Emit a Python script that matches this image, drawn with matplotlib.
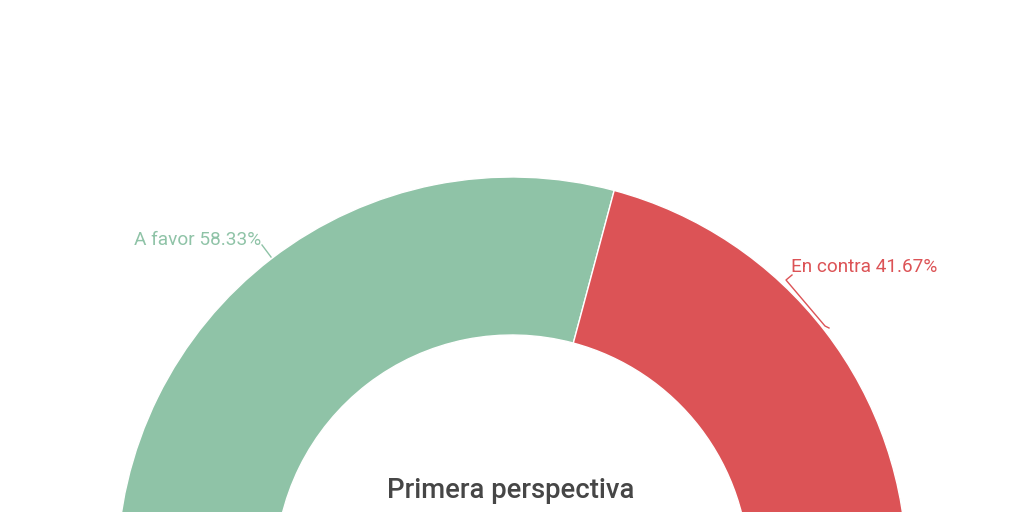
import matplotlib.pyplot as plt

# vote shares
labels = ["A favor", "En contra"]
shares = [58.33, 41.67]
colors = ["#8fc3a7", "#dc5356"]
title = "Primera perspectiva"

plt.rcParams["font.family"] = ["Roboto", "DejaVu Sans"]

fig = plt.figure(figsize=(10.24, 5.12), dpi=100)
ax = fig.add_axes([0, 0, 1, 1])

# half donut: a hidden wedge takes the lower half
values = shares + [sum(shares)]
wedges, _ = ax.pie(values, colors=colors + ["none"], startangle=180,
                   counterclock=False, radius=1.0,
                   wedgeprops=dict(width=0.4, edgecolor="white", linewidth=1))
wedges[-1].set_edgecolor("none")

# one data unit = 395 px, centre sits below the picture
R = 395.0
cx, cy = 512.0, 572.0


def px(x, y):
    return ((x - cx) / R, (cy - y) / R)


ax.set_xlim(px(0, 0)[0], px(1024, 0)[0])
ax.set_ylim(px(0, 512)[1], px(0, 0)[1])
ax.set_aspect("equal")
ax.axis("off")

# labels with leader lines
t0 = f"{labels[0]} {shares[0]:.2f}%"
ax.text(*px(134, 240), t0, color=colors[0], fontsize=13.7, ha="left", va="center")
x0, y0 = zip(px(262, 245), px(271, 257))
ax.plot(x0, y0, color=colors[0], lw=1)

t1 = f"{labels[1]} {shares[1]:.2f}%"
ax.text(*px(791, 267), t1, color=colors[1], fontsize=13.7, ha="left", va="center")
x1, y1 = zip(px(792, 275), px(786, 280), px(825, 326), px(829, 328))
ax.plot(x1, y1, color=colors[1], lw=1)

ax.text(*px(511, 491), title, color="#464646", fontsize=19.8,
        fontweight="medium", ha="center", va="center")

fig.savefig("out.png", dpi=100)
